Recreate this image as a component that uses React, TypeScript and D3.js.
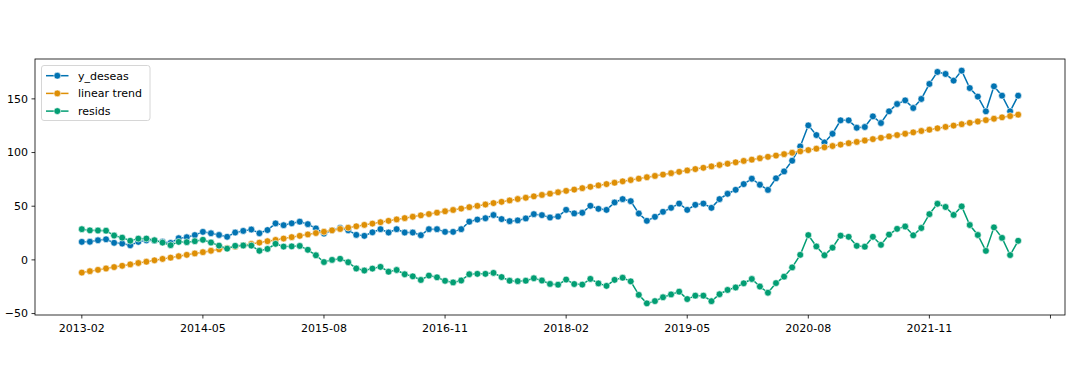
import React from "react";
import * as d3 from "d3";

const yDeseas: number[] = [
  16.8, 16.9, 18.3, 19.2, 15.9, 15.2, 13.6, 16.8, 18.2, 17.9,
  17.0, 15.8, 20.2, 21.1, 23.1, 26.1, 24.8, 23.2, 21.5, 25.5,
  27.0, 28.3, 24.8, 27.8, 34.0, 32.3, 34.1, 35.6, 33.3, 29.3,
  24.5, 27.5, 29.8, 27.6, 23.3, 22.4, 25.7, 28.6, 25.5, 28.6,
  25.5, 25.5, 23.0, 28.6, 28.6, 26.1, 26.1, 28.6, 35.6, 37.6,
  38.8, 41.8, 38.0, 36.1, 36.8, 38.6, 42.6, 41.7, 39.5, 40.4,
  46.6, 43.3, 43.9, 50.4, 47.6, 46.6, 53.5, 56.6, 54.7, 43.2,
  36.4, 40.1, 44.8, 48.5, 52.5, 46.6, 51.3, 52.5, 48.5, 56.6,
  61.6, 65.3, 70.6, 75.6, 70.0, 65.2, 76.0, 82.4, 92.4, 105.7,
  125.3, 116.3, 109.4, 117.5, 130.0, 130.0, 123.1, 123.8, 133.7, 127.5,
  138.4, 145.2, 148.6, 141.5, 149.9, 163.9, 175.1, 173.2, 167.0, 176.3,
  160.1, 152.1, 138.4, 161.7, 153.0, 138.4, 153.0,
];

const linearTrend: number[] = [
  -11.8, -10.5, -9.3, -8.0, -6.7, -5.5, -4.2, -2.9, -1.7, -0.4,
  0.9, 2.1, 3.4, 4.7, 6.0, 7.2, 8.5, 9.8, 11.0, 12.3,
  13.6, 14.8, 16.1, 17.4, 18.6, 19.9, 21.2, 22.4, 23.7, 25.0,
  26.2, 27.5, 28.8, 30.0, 31.3, 32.6, 33.8, 35.1, 36.4, 37.7,
  38.9, 40.2, 41.5, 42.7, 44.0, 45.3, 46.5, 47.8, 49.1, 50.3,
  51.6, 52.9, 54.1, 55.4, 56.7, 57.9, 59.2, 60.5, 61.7, 63.0,
  64.3, 65.5, 66.8, 68.1, 69.4, 70.6, 71.9, 73.2, 74.4, 75.7,
  77.0, 78.2, 79.5, 80.8, 82.0, 83.3, 84.6, 85.8, 87.1, 88.4,
  89.6, 90.9, 92.2, 93.4, 94.7, 96.0, 97.2, 98.5, 99.8, 101.1,
  102.3, 103.6, 104.9, 106.1, 107.4, 108.7, 109.9, 111.2, 112.5, 113.7,
  115.0, 116.3, 117.5, 118.8, 120.1, 121.3, 122.6, 123.9, 125.1, 126.4,
  127.7, 128.9, 130.2, 131.5, 132.8, 134.0, 135.3,
];

const resids: number[] = [
  28.6, 27.5, 27.4, 27.2, 22.7, 20.7, 17.8, 19.8, 19.9, 18.3,
  16.1, 13.7, 16.8, 16.5, 17.4, 18.7, 16.2, 13.3, 10.5, 13.1,
  13.4, 13.3, 8.5, 10.2, 15.0, 12.4, 12.6, 13.0, 9.4, 4.3,
  -2.0, 0.0, 1.0, -2.2, -8.0, -9.9, -8.1, -6.5, -11.0, -9.4,
  -13.4, -15.3, -18.7, -14.6, -16.2, -19.5, -21.0, -19.2, -13.4, -13.0,
  -13.0, -12.1, -16.0, -19.4, -19.8, -19.4, -17.1, -19.2, -22.4, -23.1,
  -18.3, -22.5, -23.0, -17.7, -21.9, -24.2, -18.6, -16.6, -20.0, -32.6,
  -40.5, -38.4, -34.8, -32.2, -29.6, -36.5, -33.3, -33.3, -38.5, -32.0,
  -28.0, -25.7, -21.8, -17.8, -24.8, -30.6, -21.6, -15.6, -7.0, 4.7,
  23.1, 12.5, 4.3, 11.4, 22.6, 21.5, 13.1, 12.3, 21.5, 14.0,
  23.6, 28.9, 31.1, 22.9, 29.7, 42.6, 52.3, 49.3, 41.9, 49.8,
  32.5, 23.2, 8.4, 30.3, 20.5, 4.5, 17.8,
];

const seriesNames: string[] = ["y_deseas", "linear trend", "resids"];
const seriesColors: string[] = ["#0173b2", "#de8f05", "#029e73"];

const xTickIndex: number[] = [0, 15, 30, 45, 60, 75, 90, 105, 120];
const xTickLabels: string[] = [
  "2013-02", "2014-05", "2015-08", "2016-11", "2018-02",
  "2019-05", "2020-08", "2021-11", "",
];
const yTicks: number[] = [-50, 0, 50, 100, 150];

const W = 1080;
const H = 377;
const M = { left: 35, right: 1065, top: 59, bottom: 315 };
const FONT = "DejaVu Sans, sans-serif";

export default function App() {
  const n = yDeseas.length;
  const pad = (n - 1) * 0.05;
  const x = d3.scaleLinear().domain([-pad, n - 1 + pad]).range([M.left, M.right]);
  const all = [...yDeseas, ...linearTrend, ...resids];
  const [mn, mx] = d3.extent(all) as [number, number];
  const yp = (mx - mn) * 0.05;
  const y = d3.scaleLinear().domain([mn - yp, mx + yp]).range([M.bottom, M.top]);

  const series = [yDeseas, linearTrend, resids];
  const line = d3
    .line<number>()
    .x((_, i) => x(i))
    .y((d) => y(d));

  const fmt = (v: number) => (v < 0 ? "\u2212" + Math.abs(v) : String(v));

  return (
    <svg
      width={W}
      height={H}
      style={{ position: "absolute", left: 0, top: 0, display: "block", background: "#fff" }}
      fontFamily={FONT}
    >
      <rect x={0} y={0} width={W} height={H} fill="#fff" />
      <defs>
        <clipPath id="plotclip">
          <rect x={M.left} y={M.top} width={M.right - M.left} height={M.bottom - M.top} />
        </clipPath>
      </defs>
      <g clipPath="url(#plotclip)">
        {series.map((s, k) => (
          <g key={k}>
            <path d={line(s) || ""} fill="none" stroke={seriesColors[k]} strokeWidth={1.5} />
            {s.map((v, i) => (
              <circle
                key={i}
                cx={x(i)}
                cy={y(v)}
                r={3.4}
                fill={seriesColors[k]}
                stroke="#fff"
                strokeWidth={0.6}
              />
            ))}
          </g>
        ))}
      </g>
      {/* frame */}
      <rect
        x={M.left}
        y={M.top}
        width={M.right - M.left}
        height={M.bottom - M.top}
        fill="none"
        stroke="#000"
        strokeWidth={0.8}
      />
      {/* x ticks */}
      {xTickIndex.map((t, i) => (
        <g key={t}>
          <line x1={x(t)} x2={x(t)} y1={M.bottom} y2={M.bottom + 3.5} stroke="#000" strokeWidth={0.8} />
          <text x={x(t)} y={M.bottom + 17} fontSize={11} textAnchor="middle" fill="#000">
            {xTickLabels[i]}
          </text>
        </g>
      ))}
      {/* y ticks */}
      {yTicks.map((t) => (
        <g key={t}>
          <line x1={M.left - 3.5} x2={M.left} y1={y(t)} y2={y(t)} stroke="#000" strokeWidth={0.8} />
          <text x={M.left - 7} y={y(t)} dy="0.35em" fontSize={11} textAnchor="end" fill="#000">
            {fmt(t)}
          </text>
        </g>
      ))}
      {/* legend */}
      <g>
        <rect
          x={41.5}
          y={65.5}
          width={108.5}
          height={55}
          rx={2.5}
          fill="#fff"
          fillOpacity={0.8}
          stroke="#ccc"
          strokeWidth={0.8}
        />
        {seriesNames.map((name, k) => {
          const ly = 75.7 + k * 17.7;
          return (
            <g key={name}>
              <line x1={46} x2={68.5} y1={ly} y2={ly} stroke={seriesColors[k]} strokeWidth={1.5} />
              <circle cx={57.3} cy={ly} r={3.4} fill={seriesColors[k]} stroke="#fff" strokeWidth={0.6} />
              <text x={78} y={ly} dy="0.35em" fontSize={11} fill="#000">
                {name}
              </text>
            </g>
          );
        })}
      </g>
    </svg>
  );
}
